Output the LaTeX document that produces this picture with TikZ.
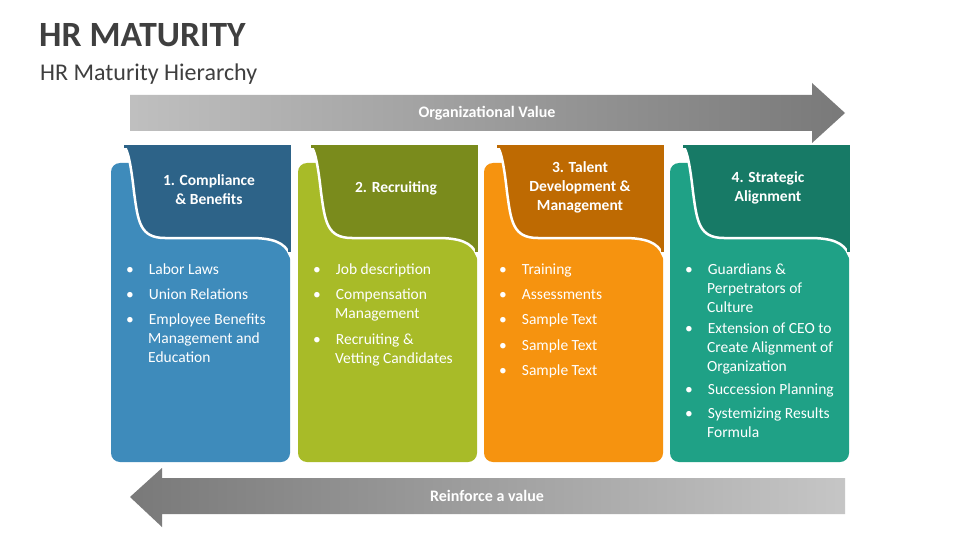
\documentclass[tikz,border=0pt]{standalone}
\usepackage{fontspec}
\setmainfont{Carlito}
\definecolor{b1}{HTML}{3E8BBB}\definecolor{h1}{HTML}{2D6388}
\definecolor{b2}{HTML}{A8BB28}\definecolor{h2}{HTML}{7A8B1C}
\definecolor{b3}{HTML}{F6930F}\definecolor{h3}{HTML}{BE6A02}
\definecolor{b4}{HTML}{1FA186}\definecolor{h4}{HTML}{177A66}
\definecolor{tg}{HTML}{3F3F3F}
\tikzset{
 hd/.style={font=\bfseries\fontsize{15.5}{19}\selectfont,text=white,align=center},
 bl/.style={font=\fontsize{15.5}{19}\selectfont,text=white,align=left,anchor=north west,inner sep=0pt},
 ar/.style={font=\bfseries\fontsize{16}{19}\selectfont,text=white}
}
\newcommand{\card}[4]{% x, body, head, items
 \begin{scope}[xshift=#1]
 \fill[#2,rounded corners=9pt] (111,163) rectangle (290,462);
 \fill[#3,draw=white,line width=2.5pt] (124,146) -- (290,146) -- (290,255)
   .. controls (285,242) and (272,238) .. (250,238) -- (165,238)
   .. controls (140,238) and (138,222) .. (134,192)
   .. controls (131,165) and (128,150) .. (124,146);
 \fill[#3] (124,145) rectangle (291,148);
 \fill[#3] (288,146) rectangle (291,252);
 #4
 \end{scope}}
\begin{document}
\begin{tikzpicture}[x=1pt,y=-1pt]
\useasboundingbox (0,0) rectangle (960,540);
\fill[white] (0,0) rectangle (960,540);
\node[anchor=west,font=\bfseries\fontsize{35.5}{40}\selectfont,text=tg,inner sep=0] (t) at (39,35) {HR MATURITY};
\node[anchor=west,font=\fontsize{24}{28}\selectfont,text=tg,inner sep=0] (st) at (40,74) {HR Maturity Hierarchy};
\shade[left color=gray!50,right color=gray!95!black] (130,95) -- (812,95) -- (812,83) -- (845,113) -- (812,143) -- (812,131) -- (130,131) -- cycle;
\node[ar] (ov) at (487,113) {Organizational Value};
\shade[left color=gray!95!black,right color=gray!45] (845,478) -- (162,478) -- (162,468) -- (130,497) -- (162,527) -- (162,514) -- (845,514) -- cycle;
\node[ar] (rv) at (487,496) {Reinforce a value};
\card{0pt}{b1}{h1}{
 \node[hd] (n1) at (209,190) {1. Compliance\\\& Benefits};
 \node[bl] (l1) at (126,264) {\textbullet\hspace{15pt}Labor Laws};
 \node[bl] (l2) at (126,289) {\textbullet\hspace{15pt}Union Relations};
 \node[bl] (l3) at (126,314) {\textbullet\hspace{15pt}Employee Benefits\\\hspace{22pt}Management and\\\hspace{22pt}Education};}
\card{187pt}{b2}{h2}{
 \node[hd] (n2) at (209,188) {2. Recruiting};
 \node[bl] (m1) at (126,264) {\textbullet\hspace{15pt}Job description};
 \node[bl] (m2) at (126,289) {\textbullet\hspace{15pt}Compensation\\\hspace{22pt}Management};
 \node[bl] (m3) at (126,334) {\textbullet\hspace{15pt}Recruiting \&\\\hspace{22pt}Vetting Candidates};}
\card{373pt}{b3}{h3}{
 \node[hd] (n3) at (207,187) {3. Talent\\Development \&\\Management};
 \node[bl] (o1) at (126,264) {\textbullet\hspace{15pt}Training};
 \node[bl] (o2) at (126,289) {\textbullet\hspace{15pt}Assessments};
 \node[bl] (o3) at (126,314) {\textbullet\hspace{15pt}Sample Text};
 \node[bl] (o4) at (126,340) {\textbullet\hspace{15pt}Sample Text};
 \node[bl] (o5) at (126,365) {\textbullet\hspace{15pt}Sample Text};}
\card{559pt}{b4}{h4}{
 \node[hd] (n4) at (209,188) {4. Strategic\\Alignment};
 \node[bl] (p1) at (126,264) {\textbullet\hspace{15pt}Guardians \&\\\hspace{22pt}Perpetrators of\\\hspace{22pt}Culture};
 \node[bl] (p2) at (126,323) {\textbullet\hspace{15pt}Extension of CEO to\\\hspace{22pt}Create Alignment of\\\hspace{22pt}Organization};
 \node[bl] (p3) at (126,384) {\textbullet\hspace{15pt}Succession Planning};
 \node[bl] (p4) at (126,408) {\textbullet\hspace{15pt}Systemizing Results\\\hspace{22pt}Formula};}
\end{tikzpicture}
\end{document}
